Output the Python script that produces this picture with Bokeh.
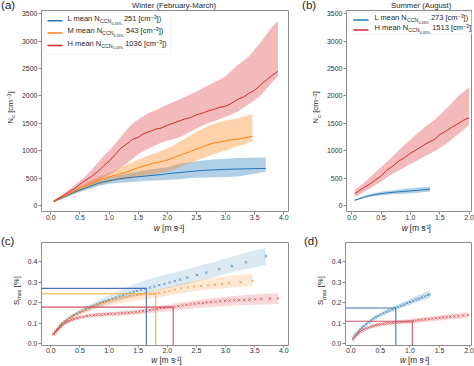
from bokeh.plotting import figure
from bokeh.models import (Range1d, FixedTicker, PrintfTickFormatter, Label,
                          BoxAnnotation, Arrow)
from bokeh.layouts import row, column
from bokeh.embed import file_html
from bokeh.resources import INLINE

FONT = "Liberation Sans"
C_BLUE, C_ORANGE, C_RED = "#1f77b4", "#ff7f0e", "#d62728"
LN_BLUE, LN_ORANGE, LN_RED = "#4a72b5", "#f2ae3a", "#cc5566"

# ---------------- data: panel (a) winter N_c ----------------
a_w_L = [0.05, 0.1, 0.2, 0.3, 0.4, 0.5, 0.6, 0.7, 0.8, 0.9, 1.0, 1.1, 1.2, 1.3, 1.4, 1.5, 1.6, 1.7, 1.8, 1.9,
         2.0, 2.2, 2.4, 2.6, 2.8, 3.0, 3.2, 3.4, 3.6, 3.69]
a_mean_L = [70, 95, 140, 190, 240, 280, 320, 360, 400, 430, 450, 470, 490, 505, 515, 525, 535, 545, 555, 565,
            580, 600, 620, 640, 650, 660, 665, 670, 675, 676]
a_hi_L = [80, 108, 160, 215, 270, 315, 360, 405, 450, 480, 510, 535, 560, 580, 600, 620, 640, 655, 670, 685,
          700, 760, 790, 820, 840, 855, 865, 872, 878, 880]
a_lo_L = [60, 82, 120, 165, 210, 245, 280, 315, 350, 375, 395, 405, 415, 420, 430, 440, 445, 450, 455, 460,
          465, 480, 500, 510, 515, 520, 530, 560, 600, 610]

a_w_M = [0.05, 0.1, 0.2, 0.3, 0.4, 0.5, 0.6, 0.7, 0.8, 0.9, 1.0, 1.1, 1.2, 1.3, 1.4, 1.5, 1.6, 1.7, 1.8, 1.9,
         2.0, 2.1, 2.2, 2.3, 2.4, 2.5, 2.6, 2.7, 2.8, 2.9, 3.0, 3.1, 3.2, 3.3, 3.4, 3.46]
a_mean_M = [75, 100, 150, 200, 260, 310, 360, 400, 450, 490, 520, 550, 580, 610, 650, 690, 720, 750, 780, 800,
            830, 870, 910, 950, 990, 1030, 1070, 1110, 1140, 1160, 1180, 1200, 1210, 1230, 1250, 1260]
a_hi_M = [85, 115, 170, 230, 290, 350, 410, 460, 510, 550, 590, 640, 690, 740, 790, 840, 880, 920, 960, 1000,
          1040, 1090, 1160, 1220, 1280, 1340, 1400, 1450, 1490, 1520, 1550, 1570, 1590, 1620, 1650, 1660]
a_lo_M = [65, 85, 130, 175, 220, 260, 300, 330, 370, 400, 430, 450, 470, 480, 500, 520, 540, 560, 580, 600,
          620, 650, 700, 740, 780, 820, 860, 900, 940, 970, 1000, 1040, 1080, 1110, 1150, 1170]

a_w_H = [0.05, 0.1, 0.2, 0.3, 0.4, 0.5, 0.6, 0.7, 0.8, 0.9, 1.0, 1.1, 1.2, 1.3, 1.4, 1.5, 1.6, 1.7, 1.8, 1.9,
         2.0, 2.1, 2.2, 2.3, 2.4, 2.5, 2.6, 2.7, 2.8, 2.9, 3.0, 3.1, 3.2, 3.3, 3.4, 3.5, 3.6, 3.7, 3.8, 3.9]
a_mean_H = [80, 110, 170, 240, 305, 385, 465, 530, 615, 715, 810, 925, 1045, 1120, 1205, 1245, 1315, 1350, 1395, 1415,
            1465, 1500, 1540, 1580, 1605, 1655, 1685, 1725, 1755, 1795, 1810, 1865, 1935, 1975, 2045, 2105, 2200, 2290, 2375, 2450]
a_hi_H = [100, 130, 200, 280, 360, 450, 540, 650, 770, 900, 1000, 1120, 1250, 1380, 1490, 1570, 1640, 1700, 1740, 1790,
          1840, 1890, 1930, 1980, 2030, 2080, 2140, 2190, 2250, 2300, 2360, 2460, 2560, 2640, 2720, 2850, 2980, 3120, 3260, 3370]
a_lo_H = [60, 90, 140, 200, 250, 310, 360, 400, 450, 510, 560, 620, 690, 760, 850, 930, 1000, 1050, 1100, 1150,
          1180, 1210, 1240, 1290, 1350, 1400, 1460, 1500, 1540, 1580, 1620, 1660, 1710, 1780, 1850, 1920, 2010, 2120, 2250, 2360]

# ---------------- data: panel (b) summer N_c ----------------
b_w_L = [0.05, 0.1, 0.2, 0.3, 0.4, 0.5, 0.6, 0.7, 0.8, 0.9, 1.0, 1.1, 1.2, 1.33]
b_mean_L = [95, 112, 150, 180, 200, 215, 230, 240, 250, 258, 265, 275, 285, 295]
b_hi_L = [105, 127, 170, 205, 230, 250, 265, 280, 293, 305, 315, 325, 335, 345]
b_lo_L = [85, 97, 130, 155, 172, 182, 195, 203, 210, 215, 222, 230, 240, 250]

b_w_H = [0.05, 0.1, 0.2, 0.3, 0.4, 0.5, 0.6, 0.7, 0.8, 0.9, 1.0, 1.1, 1.2, 1.3, 1.4, 1.5, 1.6, 1.7, 1.8, 1.9, 2.0]
b_mean_H = [220, 250, 320, 385, 465, 540, 645, 720, 810, 875, 955, 1015, 1085, 1150, 1200, 1295, 1355, 1425, 1485, 1555, 1600]
b_hi_H = [290, 320, 410, 500, 600, 700, 800, 900, 1010, 1110, 1200, 1300, 1390, 1480, 1550, 1650, 1760, 1860, 1990, 2070, 2160]
b_lo_H = [150, 180, 240, 300, 370, 440, 510, 580, 640, 700, 760, 810, 870, 930, 980, 1050, 1120, 1200, 1290, 1380, 1470]

# ---------------- data: panel (c) winter S_max ----------------
c_w_L = [0.05, 0.08, 0.11, 0.14, 0.17, 0.20, 0.24, 0.28, 0.32, 0.36, 0.40, 0.45, 0.50, 0.55, 0.60, 0.65, 0.70, 0.75,
         0.80, 0.85, 0.90, 0.95, 1.00, 1.06, 1.12, 1.18, 1.24, 1.30, 1.36, 1.42, 1.48, 1.55, 1.62, 1.70, 1.78, 1.86,
         1.95, 2.04, 2.13, 2.22, 2.34, 2.51, 2.67, 2.89, 3.11, 3.35, 3.69]
c_S_L = [0.049, 0.060, 0.071, 0.082, 0.092, 0.100, 0.109, 0.117, 0.125, 0.133, 0.140, 0.147, 0.154, 0.161, 0.168,
         0.175, 0.181, 0.186, 0.192, 0.198, 0.204, 0.209, 0.214, 0.220, 0.226, 0.232, 0.238, 0.243, 0.248, 0.253,
         0.258, 0.263, 0.268, 0.274, 0.279, 0.286, 0.292, 0.299, 0.306, 0.313, 0.323, 0.336, 0.348, 0.364, 0.380,
         0.398, 0.428]
c_bw_L = [0.05, 0.2, 0.4, 0.6, 0.8, 1.0, 1.2, 1.4, 1.6, 1.8, 2.0, 2.2, 2.4, 2.6, 2.8, 3.0, 3.2, 3.4, 3.69]
c_hi_L = [0.053, 0.108, 0.150, 0.182, 0.208, 0.236, 0.262, 0.287, 0.308, 0.324, 0.340, 0.354, 0.369, 0.385, 0.400,
          0.416, 0.432, 0.448, 0.470]
c_lo_L = [0.045, 0.093, 0.130, 0.155, 0.175, 0.195, 0.212, 0.228, 0.243, 0.257, 0.270, 0.283, 0.296, 0.310, 0.325,
          0.340, 0.355, 0.368, 0.385]

c_w_M = [0.05, 0.08, 0.11, 0.14, 0.17, 0.20, 0.24, 0.28, 0.32, 0.36, 0.40, 0.45, 0.50, 0.55, 0.60, 0.65, 0.70, 0.75,
         0.80, 0.85, 0.90, 0.95, 1.00, 1.06, 1.12, 1.18, 1.24, 1.30, 1.36, 1.42, 1.48, 1.55, 1.62, 1.70, 1.78, 1.86,
         1.95, 2.04, 2.13, 2.24, 2.35, 2.46, 2.58, 2.70, 2.82, 2.94, 3.06, 3.26, 3.46]
c_S_M = [0.047, 0.058, 0.069, 0.080, 0.090, 0.098, 0.107, 0.115, 0.123, 0.130, 0.137, 0.144, 0.152, 0.159, 0.165,
         0.171, 0.178, 0.183, 0.188, 0.194, 0.199, 0.204, 0.208, 0.213, 0.218, 0.222, 0.226, 0.229, 0.232, 0.235,
         0.237, 0.239, 0.241, 0.242, 0.244, 0.247, 0.252, 0.258, 0.264, 0.270, 0.275, 0.279, 0.282, 0.285, 0.288,
         0.291, 0.295, 0.300, 0.307]
c_bw_M = [0.05, 0.2, 0.4, 0.6, 0.8, 1.0, 1.2, 1.4, 1.6, 1.8, 2.0, 2.2, 2.4, 2.6, 2.8, 3.0, 3.2, 3.46]
c_hi_M = [0.051, 0.105, 0.146, 0.176, 0.200, 0.218, 0.232, 0.243, 0.252, 0.262, 0.276, 0.290, 0.302, 0.313, 0.322,
          0.330, 0.336, 0.342]
c_lo_M = [0.044, 0.092, 0.128, 0.152, 0.170, 0.185, 0.197, 0.207, 0.216, 0.224, 0.234, 0.244, 0.253, 0.261, 0.267,
          0.272, 0.276, 0.280]

c_w_H = [0.05, 0.08, 0.11, 0.14, 0.17, 0.20, 0.24, 0.28, 0.32, 0.36, 0.40, 0.45, 0.50, 0.56, 0.62, 0.68, 0.74, 0.80,
         0.86, 0.92, 0.98, 1.04, 1.10, 1.16, 1.22, 1.28, 1.34, 1.40, 1.46, 1.52, 1.58, 1.64, 1.70, 1.76, 1.82, 1.88,
         1.94, 2.00, 2.06, 2.12, 2.19, 2.26, 2.33, 2.40, 2.47, 2.54, 2.61, 2.68, 2.75, 2.83, 2.91, 2.99, 3.07, 3.15,
         3.23, 3.32, 3.41, 3.51, 3.61, 3.76, 3.90]
c_S_H = [0.044, 0.054, 0.064, 0.073, 0.082, 0.090, 0.099, 0.106, 0.111, 0.116, 0.120, 0.124, 0.128, 0.131, 0.134,
         0.137, 0.139, 0.141, 0.142, 0.143, 0.144, 0.145, 0.146, 0.147, 0.148, 0.149, 0.151, 0.152, 0.154, 0.156,
         0.158, 0.160, 0.163, 0.166, 0.169, 0.172, 0.175, 0.177, 0.178, 0.180, 0.183, 0.186, 0.189, 0.192, 0.195,
         0.197, 0.199, 0.201, 0.203, 0.205, 0.207, 0.209, 0.210, 0.211, 0.212, 0.213, 0.215, 0.216, 0.218, 0.220,
         0.221]
c_bw_H = [0.05, 0.2, 0.4, 0.6, 0.8, 1.0, 1.2, 1.4, 1.6, 1.8, 2.0, 2.2, 2.4, 2.6, 2.8, 3.0, 3.2, 3.4, 3.6, 3.9]
c_hi_H = [0.048, 0.096, 0.128, 0.143, 0.150, 0.154, 0.158, 0.163, 0.170, 0.180, 0.190, 0.200, 0.208, 0.216, 0.223,
          0.229, 0.234, 0.239, 0.243, 0.248]
c_lo_H = [0.040, 0.084, 0.112, 0.125, 0.131, 0.134, 0.137, 0.140, 0.145, 0.152, 0.158, 0.164, 0.170, 0.175, 0.180,
          0.184, 0.187, 0.189, 0.191, 0.193]

c_cross_w = [1.64, 1.80, 2.10]
c_cross_S = [0.270, 0.244, 0.178]

# ---------------- data: panel (d) summer S_max ----------------
d_w_L = [0.04, 0.07, 0.10, 0.13, 0.16, 0.19, 0.22, 0.26, 0.30, 0.34, 0.38, 0.42, 0.46, 0.50, 0.55, 0.60, 0.65, 0.70,
         0.75, 0.80, 0.85, 0.90, 0.95, 1.00, 1.05, 1.10, 1.15, 1.20, 1.25, 1.30, 1.33]
d_S_L = [0.028, 0.040, 0.051, 0.061, 0.070, 0.078, 0.086, 0.096, 0.105, 0.114, 0.122, 0.129, 0.136, 0.142, 0.149,
         0.155, 0.161, 0.167, 0.173, 0.179, 0.185, 0.191, 0.197, 0.203, 0.209, 0.215, 0.220, 0.226, 0.231, 0.237, 0.240]
d_bw_L = [0.04, 0.2, 0.4, 0.6, 0.8, 1.0, 1.2, 1.33]
d_hi_L = [0.031, 0.088, 0.132, 0.165, 0.192, 0.218, 0.244, 0.262]
d_lo_L = [0.025, 0.072, 0.115, 0.146, 0.168, 0.190, 0.210, 0.222]

d_w_H = [0.04, 0.07, 0.10, 0.13, 0.16, 0.19, 0.22, 0.26, 0.30, 0.34, 0.38, 0.42, 0.46, 0.50, 0.55, 0.60, 0.65, 0.70,
         0.75, 0.80, 0.85, 0.90, 0.95, 1.00, 1.05, 1.10, 1.15, 1.20, 1.26, 1.32, 1.38, 1.44, 1.50, 1.56, 1.62, 1.68,
         1.75, 1.82, 1.90, 1.98]
d_S_H = [0.020, 0.033, 0.043, 0.051, 0.058, 0.064, 0.069, 0.074, 0.078, 0.082, 0.086, 0.089, 0.092, 0.094, 0.096,
         0.098, 0.100, 0.101, 0.103, 0.104, 0.105, 0.106, 0.107, 0.108, 0.110, 0.112, 0.114, 0.116, 0.118, 0.120,
         0.122, 0.124, 0.126, 0.128, 0.129, 0.131, 0.133, 0.135, 0.137, 0.139]
d_bw_H = [0.04, 0.2, 0.4, 0.6, 0.8, 1.0, 1.2, 1.4, 1.6, 1.8, 1.98]
d_hi_H = [0.024, 0.073, 0.096, 0.108, 0.115, 0.120, 0.127, 0.134, 0.141, 0.148, 0.155]
d_lo_H = [0.016, 0.060, 0.078, 0.088, 0.094, 0.098, 0.104, 0.110, 0.115, 0.120, 0.124]

d_cross_w = [0.76, 1.04]
d_cross_S = [0.174, 0.109]

# ---------------- text / ticks ----------------
title_a = "Winter (February-March)"
title_b = "Summer (August)"
leg_a = [("L", 251), ("M", 543), ("H", 1036)]
leg_b = [("L", 273), ("H", 1513)]
N_ticks = [0, 500, 1000, 1500, 2000, 2500, 3000, 3500]
S_ticks = [0.0, 0.1, 0.2, 0.3, 0.4]
w_ticks_a = [0.0, 0.5, 1.0, 1.5, 2.0, 2.5, 3.0, 3.5, 4.0]
w_ticks_b = [0.0, 0.5, 1.0, 1.5, 2.0]

XR_A = (-0.16, 4.08)
XR_B = (-0.09, 2.04)
YR_N = (-110, 3560)
YR_S = (-0.010, 0.495)

# Arial / Liberation Sans advance widths (1/1000 em)
AW = {' ': 278, '(': 333, ')': 333, '%': 889, '.': 278, '[': 278, ']': 278, '\u2212': 584, '-': 333,
      'A': 667, 'C': 722, 'F': 611, 'H': 722, 'L': 556, 'M': 833, 'N': 722, 'S': 667, 'W': 944,
      'a': 556, 'b': 556, 'c': 500, 'd': 556, 'e': 556, 'g': 556, 'h': 556, 'i': 222, 'm': 833,
      'n': 556, 'r': 333, 's': 500, 't': 278, 'u': 556, 'w': 722, 'x': 500, 'y': 500}

# Bokeh draws a 'middle'-anchored label about 0.3 em below its anchor; compensate.
MID_SHIFT = 0.3


def tw(s, size):
    return sum(AW.get(ch, 556) for ch in s) / 1000.0 * size


def make_fig(W, H, L, R, T, B, xr, yr, xt, yt, yfmt, xtick_out=3):
    p = figure(width=W, height=H, x_range=Range1d(*xr), y_range=Range1d(*yr),
               output_backend="svg", toolbar_location=None, title=None,
               min_border_left=L, min_border_right=R, min_border_top=T, min_border_bottom=B)
    p.xgrid.visible = False
    p.ygrid.visible = False
    p.outline_line_color = "#8c8c8c"
    p.outline_line_width = 1
    p.background_fill_color = "white"
    p.border_fill_color = "white"
    p.xaxis.ticker = FixedTicker(ticks=xt)
    p.yaxis.ticker = FixedTicker(ticks=yt)
    p.xaxis.formatter = PrintfTickFormatter(format="%.1f")
    if yfmt:
        p.yaxis.formatter = PrintfTickFormatter(format=yfmt)
    for ax in (p.xaxis[0], p.yaxis[0]):
        ax.axis_line_color = None
        ax.major_tick_line_color = "#8c8c8c"
        ax.major_tick_out = 3
        ax.major_tick_in = 0
        ax.minor_tick_line_color = None
        ax.major_label_text_font = FONT
        ax.major_label_text_font_size = "7px"
        ax.major_label_text_color = "#333333"
    p.xaxis[0].major_tick_out = xtick_out
    p.xaxis[0].major_label_standoff = 0
    p.yaxis[0].major_label_standoff = 1
    return p


def text_fig(w, h):
    f = figure(width=w, height=h, x_range=Range1d(0, w), y_range=Range1d(0, h),
               min_border=0, toolbar_location=None, output_backend="svg",
               x_axis_type=None, y_axis_type=None, title=None)
    f.outline_line_color = None
    f.background_fill_color = "white"
    f.border_fill_color = "white"
    f.grid.visible = False
    return f


def put_runs(p, org, units, X, Y, runs, base, color="#262626", angle=0.0):
    """X, Y: start of the main baseline in page pixels (y down)."""
    ox, ob = org
    pos = 0.0
    for text, f, dy, style, *extra in runs:
        size = base * f
        gap = extra[0] if extra else 0.0
        stripped = text.lstrip(' ')
        pos += tw(text[:len(text) - len(stripped)], size) + gap
        body = stripped.rstrip(' ')
        if body:
            off = dy * base - 0.3 * size - MID_SHIFT * size
            if angle == 0:
                gx, gy = X + pos, Y + off
            else:
                gx, gy = X + off, Y - pos
            p.add_layout(Label(x=gx - ox, y=ob - gy, x_units=units, y_units=units,
                               text=body, angle=angle, text_font=FONT,
                               text_font_size=f"{size:.2f}px", text_font_style=style,
                               text_color=color, text_align="left", text_baseline="middle"))
        pos += tw(stripped, size)
    return pos


def runs_w(runs, base):
    return sum(tw(r[0], base * r[1]) + (r[4] if len(r) > 4 else 0.0) for r in runs)


def centered(p, org, units, cx, cy, runs, base, color="#262626"):
    w = runs_w(runs, base)
    put_runs(p, org, units, cx - w / 2, cy + 0.3 * base, runs, base, color)


def centered_v(p, org, units, cx, cy, runs, base, color="#262626"):
    w = runs_w(runs, base)
    put_runs(p, org, units, cx + 0.3 * base, cy + w / 2, runs, base, color, angle=1.5707963267948966)


NORM = "normal"
NC_LAB = [("N", 1, 0, NORM), ("c", 0.7, 0.15, NORM), (" [cm", 1, 0, NORM), ("\u22123", 0.7, -0.33, NORM), ("]", 1, 0, NORM)]
S_LAB = [("S", 1, 0, NORM), ("max", 0.7, 0.15, NORM), (" [%]", 1, 0, NORM)]
W_LAB = [("w", 1, 0, "italic"), (" [m s", 1, 0, NORM, 1.0), ("\u22121", 0.7, -0.32, NORM), ("]", 1, 0, NORM)]


def leg_runs(prefix, val):
    return [(prefix + " mean N", 1, 0, NORM), ("CCN", 0.7, 0.18, NORM), ("0.43%", 0.49, 0.36, NORM),
            (f" {val} [cm", 1, 0, NORM), ("\u22123", 0.7, -0.38, NORM), ("])", 1, 0, NORM)]


def legend(p, org, box, rows_y, line_x, text_x, entries, colors, base):
    ox, ob = org
    x0, y0, x1, y1 = box
    p.add_layout(BoxAnnotation(left=x0 - ox, right=x1 - ox, top=ob - y0, bottom=ob - y1,
                               left_units="screen", right_units="screen", top_units="screen",
                               bottom_units="screen", fill_color="white", fill_alpha=0.85,
                               line_color="#d0d0d0", line_width=0.8, border_radius=2))
    for (pre, val), yy, col in zip(entries, rows_y, colors):
        p.add_layout(Arrow(end=None, x_start=line_x[0] - ox, x_end=line_x[1] - ox,
                           y_start=ob - yy, y_end=ob - yy,
                           start_units="screen", end_units="screen",
                           line_color=col, line_width=1.5))
        put_runs(p, org, "screen", text_x, yy + 0.3 * base, leg_runs(pre, val), base, "#262626")


def band(p, x, lo, hi, color, alpha):
    p.varea(x=x, y1=lo, y2=hi, fill_color=color, fill_alpha=alpha)


# ================= top row (y 0..236) =================
# panel (a): title strip y 0..10, plot y 10..224 (frame x 39..288, y 10..211), x-label strip y 224..236
ttl_a = text_fig(282, 10)
centered(ttl_a, (18, 10), "data", 163.5, 5.0, [(title_a, 1, 0, NORM)], 7.7)

pa = make_fig(282, 214, 21, 12, 0, 13, XR_A, YR_N, w_ticks_a, N_ticks, None)
band(pa, a_w_L, a_lo_L, a_hi_L, C_BLUE, 0.35)
band(pa, a_w_M, a_lo_M, a_hi_M, C_ORANGE, 0.35)
band(pa, a_w_H, a_lo_H, a_hi_H, C_RED, 0.32)
pa.line(a_w_L, a_mean_L, line_color=C_BLUE, line_width=1)
pa.line(a_w_M, a_mean_M, line_color=C_ORANGE, line_width=1)
pa.line(a_w_H, a_mean_H, line_color=C_RED, line_width=1)
legend(pa, (39, 211), (41.7, 12.2, 168.3, 54.0), [20.3, 32.5, 45.0], (45.0, 60.0), 65.0, leg_a,
       [C_BLUE, C_ORANGE, C_RED], 7.5)

xl_a = text_fig(282, 12)
centered(xl_a, (18, 236), "data", 163.5, 230.5, W_LAB, 8.5)

strip_a = text_fig(18, 236)
centered(strip_a, (0, 236), "data", 7.6, 7.8, [("(a)", 1, 0, NORM)], 11.5, "#222222")
centered_v(strip_a, (0, 236), "data", 12.3, 107, NC_LAB, 8)

# panel (b): x 323..474 (frame x 343..471)
ttl_b = text_fig(151, 10)
centered(ttl_b, (323, 10), "data", 407, 5.0, [(title_b, 1, 0, NORM)], 7.7)

pb = make_fig(151, 214, 20, 3, 0, 13, XR_B, YR_N, w_ticks_b, N_ticks, None)
band(pb, b_w_L, b_lo_L, b_hi_L, C_BLUE, 0.35)
band(pb, b_w_H, b_lo_H, b_hi_H, C_RED, 0.32)
pb.line(b_w_L, b_mean_L, line_color=C_BLUE, line_width=1)
pb.line(b_w_H, b_mean_H, line_color=C_RED, line_width=1)
legend(pb, (343, 211), (345.0, 12.2, 470.0, 33.5), [19.4, 29.4], (350.0, 365.0), 371.0, leg_b,
       [C_BLUE, C_RED], 7.5)

xl_b = text_fig(151, 12)
centered(xl_b, (323, 236), "data", 407, 230.5, W_LAB, 8.5)

strip_b = text_fig(23, 236)
centered(strip_b, (300, 236), "data", 308.6, 7.8, [("(b)", 1, 0, NORM)], 11.5, "#222222")
centered_v(strip_b, (300, 236), "data", 317.8, 107, NC_LAB, 8)

# ================= bottom row (y 236..366) =================
# panel (c): plot x 24..300, y 236..355 (frame x 39..288, y 242..345), x-label strip y 355..366
pc = make_fig(276, 119, 15, 12, 6, 10, XR_A, YR_S, w_ticks_a, S_ticks, "%.1f", xtick_out=2)
band(pc, c_bw_L, c_lo_L, c_hi_L, C_BLUE, 0.16)
band(pc, c_bw_M, c_lo_M, c_hi_M, C_ORANGE, 0.18)
band(pc, c_bw_H, c_lo_H, c_hi_H, C_RED, 0.18)
pc.scatter(c_w_L, c_S_L, marker="x", size=3.5, line_color=C_BLUE, line_alpha=0.75, line_width=0.8)
pc.scatter(c_w_M, c_S_M, marker="x", size=3.5, line_color=C_ORANGE, line_alpha=0.75, line_width=0.8)
pc.scatter(c_w_H, c_S_H, marker="x", size=3.5, line_color=C_RED, line_alpha=0.75, line_width=0.8)
for wv, sv, col in zip(c_cross_w, c_cross_S, [LN_BLUE, LN_ORANGE, LN_RED]):
    pc.segment(x0=[XR_A[0]], y0=[sv], x1=[wv], y1=[sv], line_color=col, line_width=1.1)
    pc.segment(x0=[wv], y0=[YR_S[0]], x1=[wv], y1=[sv], line_color=col, line_width=1.1)

xl_c = text_fig(276, 11)
centered(xl_c, (24, 366), "data", 163.5, 361.0, W_LAB, 8.2)

strip_c = text_fig(24, 130)
centered(strip_c, (0, 366), "data", 7.2, 244.0, [("(c)", 1, 0, NORM)], 11.5, "#222222")
centered_v(strip_c, (0, 366), "data", 18.6, 290, S_LAB, 7.8)

# panel (d): plot x 328..474 (frame x 343..471)
pd = make_fig(146, 119, 15, 3, 6, 10, XR_B, YR_S, w_ticks_b, S_ticks, "%.1f", xtick_out=2)
band(pd, d_bw_L, d_lo_L, d_hi_L, C_BLUE, 0.2)
band(pd, d_bw_H, d_lo_H, d_hi_H, C_RED, 0.18)
pd.scatter(d_w_L, d_S_L, marker="x", size=3.5, line_color=C_BLUE, line_alpha=0.8, line_width=0.8)
pd.scatter(d_w_H, d_S_H, marker="x", size=3.5, line_color=C_RED, line_alpha=0.75, line_width=0.8)
for wv, sv, col in zip(d_cross_w, d_cross_S, [LN_BLUE, LN_RED]):
    pd.segment(x0=[XR_B[0]], y0=[sv], x1=[wv], y1=[sv], line_color=col, line_width=1.1)
    pd.segment(x0=[wv], y0=[YR_S[0]], x1=[wv], y1=[sv], line_color=col, line_width=1.1)

xl_d = text_fig(146, 11)
centered(xl_d, (328, 366), "data", 408, 361.0, W_LAB, 8.2)

strip_d = text_fig(28, 130)
centered(strip_d, (300, 366), "data", 310.5, 244.0, [("(d)", 1, 0, NORM)], 11.5, "#222222")
centered_v(strip_d, (300, 366), "data", 322.8, 290, S_LAB, 7.8)

top = row(strip_a, column(ttl_a, pa, xl_a), strip_b, column(ttl_b, pb, xl_b))
bottom = row(strip_c, column(pc, xl_c), strip_d, column(pd, xl_d))
layout = column(top, bottom)
open("out.html", "w").write(file_html(layout, INLINE))
